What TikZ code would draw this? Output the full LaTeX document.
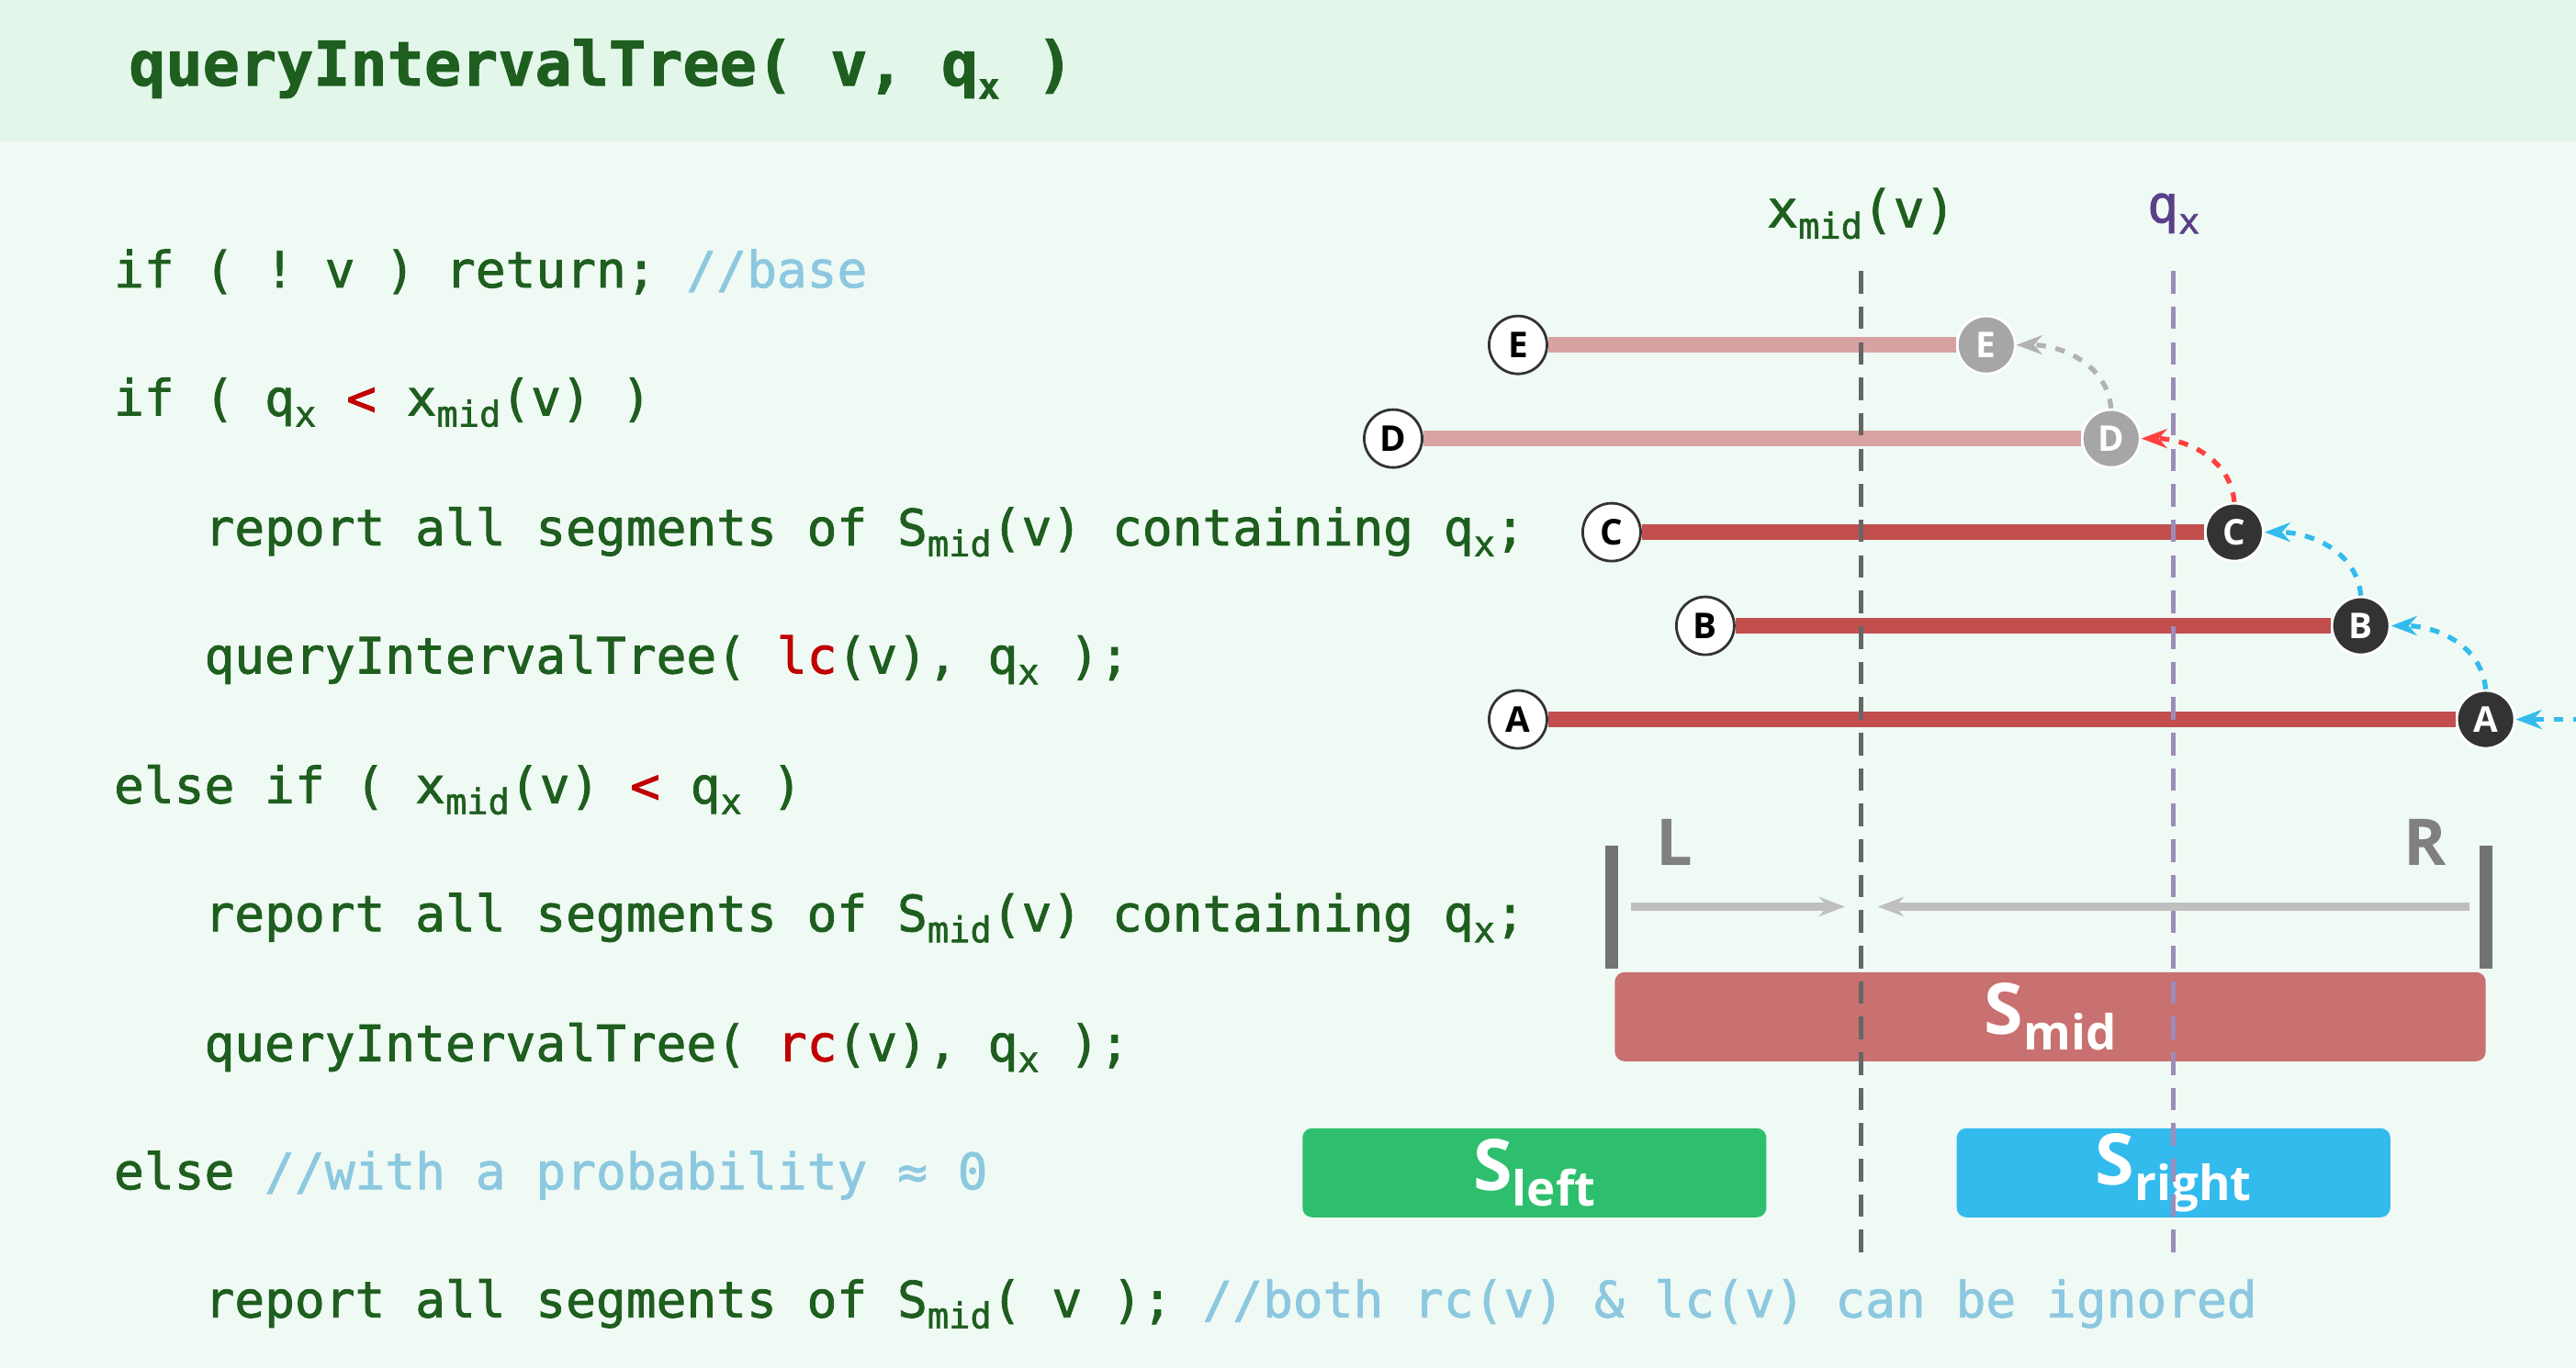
\documentclass[tikz,border=0pt]{standalone}
\usepackage{fontspec}
\setmonofont{DejaVu Sans Mono}[FakeBold=1.5]
\setsansfont{Open Sans}
\usetikzlibrary{arrows.meta}
\definecolor{codegreen}{HTML}{1E5E1E}
\definecolor{cmt}{HTML}{8CC8E0}
\definecolor{kred}{HTML}{C00000}
\definecolor{segred}{HTML}{C24E4E}
\definecolor{segpink}{HTML}{D9A2A2}
\definecolor{midred}{HTML}{C97070}
\definecolor{lgreen}{HTML}{2EBF6E}
\definecolor{lblue}{HTML}{33BBEE}
\definecolor{qpurple}{HTML}{5A3F8A}
\definecolor{bgmain}{HTML}{F0FAF4}
\definecolor{bgtitle}{HTML}{E2F6EA}
\newcommand\sbx[1]{\raisebox{-0.4ex}{\fontsize{11}{11}\selectfont #1}}
\tikzset{
  code/.style={anchor=base west,inner sep=0pt,font=\ttfamily\fontsize{15.5}{16}\selectfont,text=codegreen},
  endw/.style={circle,draw=black!80,fill=white,line width=0.8pt,minimum size=0.63cm,inner sep=0pt,font=\sffamily\bfseries\fontsize{11}{11}\selectfont},
  endg/.style={circle,draw=white,fill=black!35,text=white,line width=0.8pt,minimum size=0.63cm,inner sep=0pt,font=\sffamily\bfseries\fontsize{11}{11}\selectfont},
  endd/.style={circle,draw=white,fill=black!80,text=white,line width=0.8pt,minimum size=0.63cm,inner sep=0pt,font=\sffamily\bfseries\fontsize{11}{11}\selectfont},
  seg/.style={line width=5pt},
  hop/.style={dashed,line width=1.5pt,-{Stealth[length=8pt]}},
  bigbox/.style={rounded corners=3pt,minimum height=0.97cm,inner sep=0pt,text=white,font=\sffamily\bfseries\fontsize{22}{22}\selectfont},
}
\begin{document}
\begin{tikzpicture}[x=0.01789cm,y=-0.01789cm]
\useasboundingbox (0,0) rectangle (1568,833);
\fill[bgmain] (0,0) rectangle (1568,833);
\fill[bgtitle] (0,0) rectangle (1568,86);
\node[anchor=base west,inner sep=0pt,font=\ttfamily\bfseries\fontsize{19}{19}\selectfont,text=codegreen] (title) at (78,52) {queryIntervalTree( v, q\sbx{x} )};
% code
\node[code] (l1) at (69,175) {if ( ! v ) return;  \textcolor{cmt}{//base}};
\node[code] (l2) at (69,253) {if ( q\sbx{x} \textcolor{kred}{<} x\sbx{mid}(v) )};
\node[code] (l3) at (124,332) {report all segments of S\sbx{mid}(v) containing q\sbx{x};};
\node[code] (l4) at (124,410) {queryIntervalTree( \textcolor{kred}{lc}(v), q\sbx{x} );};
\node[code] (l5) at (69,489) {else if ( x\sbx{mid}(v) \textcolor{kred}{<} q\sbx{x} )};
\node[code] (l6) at (124,567) {report all segments of S\sbx{mid}(v) containing q\sbx{x};};
\node[code] (l7) at (124,646) {queryIntervalTree( \textcolor{kred}{rc}(v), q\sbx{x} );};
\node[code] (l8) at (69,724) {else \textcolor{cmt}{//with a probability ≈ 0}};
\node[code] (l9) at (124,802) {report all segments of S\sbx{mid}( v ); \textcolor{cmt}{//both rc(v) \& lc(v) can be ignored}};
% boxes
\node[bigbox,fill=midred,minimum width=9.48cm] (smid) at (1248,619) {S\raisebox{-0.4ex}{\fontsize{15}{15}\selectfont mid}};
\node[bigbox,fill=lgreen,minimum width=5.05cm] (sleft) at (934,714) {S\raisebox{-0.4ex}{\fontsize{15}{15}\selectfont left}};
\node[bigbox,fill=lblue,minimum width=4.72cm] (sright) at (1323,714) {S\raisebox{-0.4ex}{\fontsize{15}{15}\selectfont right}};
% segments
\node[endw] (e1) at (924,210) {E}; \node[endg] (e2) at (1209,210) {E};
\node[endw] (d1) at (848,267) {D}; \node[endg] (d2) at (1285,267) {D};
\node[endw] (c1) at (981,324) {C}; \node[endd] (c2) at (1360,324) {C};
\node[endw] (b1) at (1038,381) {B}; \node[endd] (b2) at (1437,381) {B};
\node[endw] (a1) at (924,438) {A}; \node[endd] (a2) at (1513,438) {A};
\draw[seg,segpink] (e1) -- (e2);
\draw[seg,segpink] (d1) -- (d2);
\draw[seg,segred] (c1) -- (c2);
\draw[seg,segred] (b1) -- (b2);
\draw[seg,segred] (a1) -- (a2);
% vertical lines
\coordinate (xt) at (1133,165); \coordinate (xb) at (1133,770);
\coordinate (qt) at (1323,165); \coordinate (qb) at (1323,770);
\draw[black!60,line width=1.5pt,dash pattern=on 7pt off 4pt] (xt) -- (xb);
\draw[qpurple!60,line width=1.5pt,dash pattern=on 7pt off 4pt] (qt) -- (qb);
\node[font=\ttfamily\fontsize{16}{16}\selectfont,text=codegreen] (xl) at (1133,130) {x\sbx{mid}(v)};
\node[font=\ttfamily\fontsize{16}{16}\selectfont,text=qpurple] (ql) at (1323,130) {q\sbx{x}};
\coordinate (in) at (1572,438);
\draw[hop,lblue] (in) -- (a2);
\draw[hop,lblue] (a2.north) to[out=95,in=0] (b2.east);
\draw[hop,lblue] (b2.north) to[out=95,in=0] (c2.east);
\draw[hop,red!75] (c2.north) to[out=95,in=0] (d2.east);
\draw[hop,black!30] (d2.north) to[out=95,in=0] (e2.east);
% L R
\coordinate (lt) at (981,515); \coordinate (lb) at (981,590);
\coordinate (rt) at (1513,515); \coordinate (rb) at (1513,590);
\draw[black!55,line width=4pt] (lt) -- (lb);
\draw[black!55,line width=4pt] (rt) -- (rb);
\node[font=\sffamily\bfseries\fontsize{20}{20}\selectfont,text=black!50] (L) at (1019,513) {L};
\node[font=\sffamily\bfseries\fontsize{20}{20}\selectfont,text=black!50] (R) at (1476,513) {R};
\coordinate (la) at (993,552); \coordinate (lz) at (1123,552);
\coordinate (ra) at (1503,552); \coordinate (rz) at (1143,552);
\draw[black!25,line width=2.5pt,-{Stealth[length=8pt]}] (la) -- (lz);
\draw[black!25,line width=2.5pt,-{Stealth[length=8pt]}] (ra) -- (rz);
\end{tikzpicture}
\end{document}
